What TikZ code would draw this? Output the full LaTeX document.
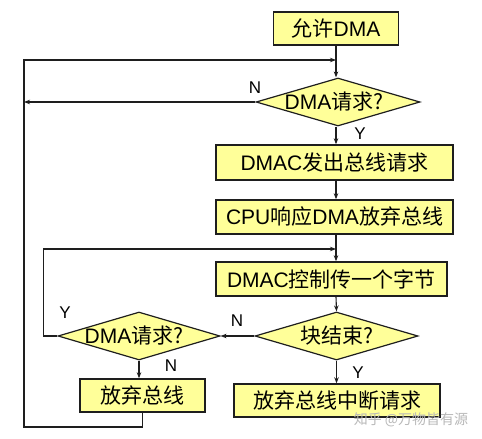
\documentclass[tikz,border=0pt]{standalone}
\usepackage{fontspec}
\setmainfont{Liberation Sans}
\newfontfamily\cjk{Noto Sans CJK SC}
\usetikzlibrary{shapes.geometric,arrows.meta}
\definecolor{boxfill}{RGB}{255,255,153}
\definecolor{ink}{RGB}{30,30,30}
\tikzset{
  box/.style={draw=ink, line width=1.4pt, fill=boxfill, inner sep=0pt, font=\fontsize{21}{24}\selectfont},
  dia/.style={diamond, draw=ink, line width=1.2pt, fill=boxfill, inner sep=0pt, minimum width=164pt, minimum height=48pt},
  dtxt/.style={inner sep=0pt, font=\fontsize{21}{24}\selectfont},
  yn/.style={inner sep=0pt, font=\fontsize{17}{20}\selectfont},
  conn/.style={draw=ink, line width=1.1pt},
  arr/.style={conn, -{Stealth[length=6pt,width=4.5pt]}},
  wm/.style={inner sep=0pt, text=black!28, font=\cjk\fontsize{14}{16}\selectfont}
}
\begin{document}
\begin{tikzpicture}[x=1pt,y=-1pt]
\useasboundingbox (0,0) rectangle (482,439);
\fill[white] (0,0) rectangle (482,439);
% boxes
\node[box, minimum width=125pt, minimum height=33pt] (b1) at (336,28.5) {{\cjk 允许}DMA};
\node[dia] (d1) at (338,102) {};
\node[dtxt] (t1) at (334,102) {DMA{\cjk 请求?}};
\node[box, minimum width=237pt, minimum height=35pt] (b2) at (334.5,162.5) {DMAC{\cjk 发出总线请求}};
\node[box, minimum width=237pt, minimum height=34pt] (b3) at (334.5,217) {CPU{\cjk 响应}DMA{\cjk 放弃总线}};
\node[box, minimum width=231pt, minimum height=34pt] (b4) at (331.5,279) {DMAC{\cjk 控制传一个字节}};
\node[dia, minimum width=163pt] (d2) at (336.5,336) {};
\node[dtxt] (t2) at (336.5,336) {\cjk 块结束?};
\node[dia, minimum width=162pt] (d3) at (139,336) {};
\node[dtxt] (t3) at (134,336) {DMA{\cjk 请求?}};
\node[box, minimum width=125pt, minimum height=33pt] (b5) at (142.5,395.5) {\cjk 放弃总线};
\node[box, minimum width=206pt, minimum height=33pt] (b6) at (337,400.5) {\cjk 放弃总线中断请求};
% junctions
\coordinate (j1) at (336,60);
\coordinate (cL) at (24,427);
\coordinate (j2) at (336,249);
% main column
\draw[arr] (b1.south) -- (b1.south |- d1.north);
\draw[arr] (d1.south -| b1.south) -- (b1.south |- b2.north);
\draw[arr] (b1.south |- b2.south) -- (b1.south |- b3.north);
\draw[arr] (b1.south |- b3.south) -- (b1.south |- b4.north);
\draw[arr] (b1.south |- b4.south) -- (d2.north);
\draw[arr] (d2.south) -- (d2.south |- b6.north);
\draw[arr] (d2.west) -- (d3.east);
\draw[arr] (d3.south) -- (d3.south |- b5.north);
% loops
\draw[arr] (d1.west) -- (d1.west -| cL);
\draw[arr] (b5.south) |- (cL) |- (j1);
\draw[arr] (d3.west) -- ++(-14,0) |- (j2);
% labels
\node[yn] (n1) at (255,88) {N};
\node[yn] (y1) at (360,134) {Y};
\node[yn] (n2) at (237,321) {N};
\node[yn] (y2) at (65,313) {Y};
\node[yn] (n3) at (171,366) {N};
\node[yn] (y3) at (358,373) {Y};
\node[wm] (w) at (411,420) {知乎 @万物皆有源};
\end{tikzpicture}
\end{document}
